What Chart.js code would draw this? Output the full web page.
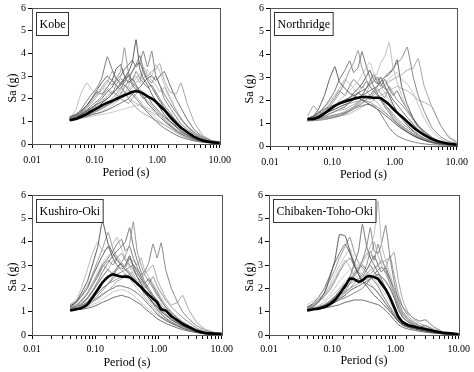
<!DOCTYPE html>
<html>
<head>
<meta charset="utf-8">
<script src="https://cdn.jsdelivr.net/npm/chart.js@4.4.1/dist/chart.umd.min.js"></script>
<style>
  body { margin: 0; background: #fff; }
  #wrap { position: relative; width: 474px; height: 372px; }
  #wrap canvas { position: absolute; }
</style>
</head>
<body>
<div id="wrap"></div>
<script>
// periods (s) shared by every spectrum
const periods = [0.04,0.05,0.06,0.075,0.09, 0.11,0.13,0.16,0.19,0.22, 0.26,0.30,0.35,0.40,0.46, 0.53,0.60,0.70,0.82,0.95, 1.1,1.3,1.6,2.0,2.4, 3.0,4.0,5.5,7.5,10];
const yTicks = [0,1,2,3,4,5,6];
const panelNames = ['Kobe', 'Northridge', 'Kushiro-Oki', 'Chibaken-Toho-Oki'];

// Kobe
const kobeMean = [1.05,1.1,1.2,1.32,1.45, 1.58,1.7,1.82,1.9,1.98, 2.08,2.15,2.22,2.3,2.33, 2.3,2.22,2.1,2.0,1.88, 1.7,1.5,1.2,0.92,0.72, 0.53,0.3,0.14,0.08,0.05];
const kobeRecords = [
  [1.1,1.15,1.25,1.4,1.5, 1.6,1.8,2.0,2.2,2.4, 2.6,2.9,3.2,3.6,4.6, 3.3,2.9,2.6,2.2,1.9, 1.6,1.3,1.0,0.75,0.55, 0.4,0.22,0.1,0.06,0.04],
  [1.15,1.2,1.4,1.6,1.9, 2.2,2.5,2.8,2.6,2.9, 3.2,4.25,3.1,2.7,2.5, 2.3,2.1,1.9,1.7,1.5, 1.3,1.1,0.85,0.6,0.45, 0.32,0.18,0.09,0.05,0.03],
  [1.2,1.3,1.5,1.9,2.2, 2.5,2.9,3.85,3.3,2.9, 2.7,2.6,2.4,2.2,2.0, 1.8,1.6,1.4,1.2,1.0, 0.85,0.7,0.55,0.4,0.3, 0.22,0.13,0.07,0.04,0.03],
  [1.1,1.5,2.2,2.7,2.4, 2.2,2.4,2.5,2.3,2.2, 2.4,2.6,2.5,2.3,2.1, 1.9,1.7,1.5,1.3,1.15, 1.0,0.85,0.7,0.5,0.38, 0.27,0.15,0.08,0.05,0.03],
  [1.05,1.1,1.15,1.25,1.35, 1.45,1.55,1.7,1.85,2.0, 2.2,2.5,2.8,3.2,3.5, 3.6,4.1,3.4,4.1,3.0, 2.6,2.0,1.6,1.2,0.9, 0.65,0.4,0.2,0.1,0.06],
  [1.1,1.12,1.2,1.3,1.4, 1.5,1.6,1.7,1.8,1.9, 2.0,2.1,2.3,2.5,2.7, 2.9,3.1,3.0,3.2,3.3, 3.55,2.8,2.3,2.2,2.7, 1.8,0.9,0.35,0.15,0.08],
  [1.15,1.2,1.3,1.45,1.6, 1.8,2.0,2.3,2.5,2.8, 3.0,3.3,3.5,3.7,3.4, 3.6,3.2,2.8,2.5,2.2, 1.9,1.6,1.3,1.0,0.75, 0.5,0.3,0.15,0.08,0.05],
  [1.05,1.08,1.12,1.18,1.22, 1.27,1.3,1.35,1.4,1.45, 1.5,1.55,1.6,1.65,1.7, 1.7,1.65,1.6,1.5,1.4, 1.3,1.15,0.95,0.75,0.6, 0.45,0.28,0.14,0.07,0.04],
  [1.2,1.25,1.35,1.5,1.6, 1.75,1.85,2.0,2.2,2.4, 2.7,2.9,3.0,3.2,3.5, 3.9,3.3,2.9,2.7,3.0, 2.6,2.2,1.8,1.4,1.1, 0.8,0.5,0.25,0.12,0.07],
  [1.1,1.2,1.35,1.6,1.8, 2.1,2.4,2.7,3.2,2.9, 2.6,2.3,2.1,1.9,1.8, 1.7,1.6,1.5,1.4,1.3, 1.2,1.05,0.85,0.65,0.5, 0.36,0.22,0.11,0.06,0.04],
  [1.05,1.1,1.15,1.2,1.3, 1.35,1.4,1.5,1.6,1.7, 1.8,1.9,2.0,2.2,2.4, 2.5,2.7,2.9,3.0,2.8, 3.0,3.2,2.6,2.0,1.6, 1.1,0.6,0.3,0.15,0.1],
  [1.1,1.15,1.25,1.35,1.45, 1.55,1.65,1.8,2.0,2.2, 2.5,2.3,2.0,1.8,1.6, 1.45,1.35,1.25,1.15,1.05, 0.95,0.85,0.7,0.55,0.42, 0.3,0.18,0.09,0.05,0.03],
  [1.1,1.2,1.3,1.5,1.7, 1.9,2.1,2.4,2.2,2.6, 2.9,2.7,3.1,2.8,3.2, 2.9,2.7,2.5,2.6,2.3, 2.0,1.7,1.4,1.0,0.75, 0.5,0.28,0.13,0.07,0.04],
  [1.15,1.25,1.4,1.7,2.0, 2.3,2.2,2.5,2.8,2.6, 2.4,2.8,3.0,2.6,2.4, 2.2,2.0,2.1,1.8,1.6, 1.4,1.2,1.0,0.8,0.6, 0.42,0.25,0.12,0.06,0.04],
  [1.05,1.1,1.18,1.3,1.4, 1.5,1.6,1.75,1.9,2.1, 2.3,2.2,2.6,2.9,3.0, 2.7,3.4,3.1,2.8,2.6, 2.3,2.5,2.0,1.5,1.15, 0.8,0.45,0.22,0.1,0.06],
  [1.1,1.15,1.3,1.45,1.55, 1.7,1.9,2.1,2.3,2.2, 2.0,1.9,1.8,2.0,2.2, 2.4,2.3,2.1,2.0,1.8, 1.6,1.5,1.3,1.05,0.8, 0.55,0.32,0.15,0.08,0.05],
  [1.2,1.3,1.45,1.7,2.0, 2.4,2.7,3.0,2.8,3.3, 3.5,3.0,2.7,2.9,2.6, 2.3,2.1,1.8,1.6,1.4, 1.2,1.0,0.8,0.6,0.45, 0.33,0.2,0.1,0.05,0.03],
  [1.05,1.08,1.12,1.2,1.28, 1.35,1.45,1.55,1.7,1.85, 2.0,2.2,2.4,2.6,2.9, 3.1,2.8,3.3,3.0,3.5, 3.2,2.6,2.1,1.5,1.1, 0.75,0.42,0.2,0.1,0.06]
];

// Northridge
const northridgeMean = [1.16,1.18,1.25,1.42,1.58, 1.74,1.84,1.93,2.0,2.05, 2.1,2.13,2.13,2.12,2.1, 2.1,2.08,1.95,1.8,1.62, 1.45,1.28,1.06,0.82,0.65, 0.48,0.3,0.17,0.1,0.06];
const northridgeRecords = [
  [1.2,1.3,1.6,2.2,2.9, 3.45,2.8,2.5,2.3,2.2, 2.1,2.0,1.9,1.8,1.7, 1.6,1.5,1.35,1.2,1.05, 0.9,0.75,0.6,0.45,0.35, 0.26,0.16,0.09,0.05,0.03],
  [1.15,1.2,1.3,1.5,1.7, 2.0,2.3,2.8,3.3,3.6, 4.15,3.4,2.9,2.6,2.4, 2.2,2.0,1.8,1.6,1.4, 1.2,1.0,0.8,0.6,0.45, 0.33,0.2,0.1,0.06,0.04],
  [1.2,1.25,1.4,1.7,2.0, 2.4,2.9,3.3,3.7,3.2, 3.4,4.1,3.5,3.0,2.6, 2.3,2.0,1.7,1.45,1.2, 1.0,0.8,0.62,0.45,0.34, 0.24,0.14,0.07,0.04,0.03],
  [1.1,1.12,1.15,1.2,1.25, 1.3,1.4,1.5,1.6,1.7, 1.9,2.1,2.3,2.6,2.9, 3.2,3.6,3.9,4.5,3.4, 2.8,2.2,1.6,1.1,0.8, 0.55,0.3,0.15,0.08,0.05],
  [1.1,1.12,1.15,1.2,1.25, 1.3,1.35,1.45,1.55,1.65, 1.75,1.85,2.0,2.2,2.4, 2.6,2.8,3.0,3.1,3.4, 3.6,3.8,4.3,3.0,2.2, 1.5,0.8,0.4,0.2,0.12],
  [1.15,1.2,1.25,1.3,1.4, 1.5,1.55,1.6,1.7,1.8, 1.9,2.0,2.1,2.2,2.3, 2.4,2.5,2.6,2.8,2.9, 3.0,3.1,3.3,3.4,3.8, 2.6,1.7,0.9,0.4,0.2],
  [1.2,1.25,1.3,1.4,1.5, 1.6,1.7,1.8,1.9,2.0, 2.1,2.2,2.3,2.4,2.5, 2.6,2.8,3.0,3.2,3.3, 3.75,2.6,1.8,1.2,0.85, 0.55,0.3,0.15,0.08,0.05],
  [1.15,1.2,1.3,1.45,1.6, 1.8,2.0,2.2,2.4,2.6, 2.8,3.1,3.4,3.65,3.2, 2.9,2.6,2.3,2.0,1.7, 1.45,1.2,0.95,0.7,0.52, 0.37,0.22,0.11,0.06,0.04],
  [1.1,1.1,1.12,1.15,1.2, 1.25,1.3,1.4,1.5,1.6, 1.7,1.75,1.8,1.8,1.75, 1.6,1.4,1.1,0.8,0.6, 0.45,0.35,0.25,0.18,0.13, 0.09,0.06,0.04,0.03,0.02],
  [1.1,1.12,1.15,1.18,1.2, 1.25,1.3,1.35,1.4,1.5, 1.6,1.7,1.8,1.9,2.0, 2.1,2.2,2.3,2.4,2.5, 2.6,2.5,2.4,2.2,2.0, 1.9,1.7,0.9,0.35,0.15],
  [1.2,1.3,1.45,1.6,1.7, 1.8,1.9,2.0,2.1,2.2, 2.3,2.4,2.5,2.7,2.8, 3.0,2.7,2.5,2.3,2.0, 1.8,1.55,1.25,0.95,0.7, 0.5,0.3,0.15,0.08,0.05],
  [1.3,1.75,1.5,1.4,1.5, 1.6,1.7,1.8,1.85,1.9, 1.95,2.0,1.95,1.9,1.8, 1.7,1.6,1.45,1.3,1.15, 1.0,0.85,0.7,0.52,0.4, 0.29,0.18,0.09,0.05,0.03],
  [1.15,1.2,1.35,1.55,1.8, 2.1,2.4,2.2,2.6,2.9, 2.7,2.5,2.8,2.6,2.4, 2.2,2.0,1.8,1.55,1.3, 1.1,0.9,0.7,0.52,0.4, 0.29,0.17,0.09,0.05,0.03],
  [1.1,1.15,1.2,1.3,1.4, 1.5,1.6,1.7,1.9,2.1, 2.3,2.2,2.5,2.8,3.1, 2.8,2.6,2.9,2.5,2.2, 2.4,2.0,1.6,1.2,0.9, 0.65,0.38,0.18,0.09,0.05],
  [1.2,1.3,1.45,1.7,1.9, 2.2,2.5,2.9,2.7,2.5, 2.3,2.6,2.4,2.2,2.0, 1.9,1.7,1.5,1.3,1.1, 0.95,0.8,0.62,0.46,0.35, 0.25,0.15,0.08,0.05,0.03],
  [1.1,1.12,1.18,1.25,1.3, 1.35,1.4,1.45,1.55,1.7, 1.85,2.0,2.2,2.0,2.3, 2.5,2.3,2.1,2.6,2.3, 2.0,1.8,1.5,1.15,0.85, 0.6,0.35,0.17,0.09,0.05],
  [1.15,1.2,1.3,1.45,1.6, 1.75,1.9,2.0,2.1,2.3, 2.5,2.7,3.0,3.3,2.9, 2.7,3.0,2.6,2.2,1.8, 1.5,1.2,0.9,0.65,0.5, 0.35,0.2,0.1,0.06,0.04],
  [1.1,1.15,1.2,1.25,1.3, 1.35,1.4,1.5,1.6,1.7, 1.8,1.9,2.0,2.1,2.2, 2.3,2.5,2.7,2.9,3.1, 3.2,2.9,2.7,2.3,1.8, 1.2,0.65,0.3,0.15,0.08]
];

// Kushiro-Oki
const kushiroMean = [1.05,1.1,1.15,1.3,1.6, 1.95,2.25,2.5,2.6,2.55, 2.5,2.5,2.47,2.35,2.2, 2.05,1.9,1.72,1.55,1.4, 1.1,1.05,0.8,0.62,0.48, 0.35,0.18,0.08,0.06,0.05];
const kushiroRecords = [
  [1.2,1.4,1.8,2.3,3.0, 3.8,4.9,3.9,3.5,3.2, 3.0,2.8,2.6,2.4,2.2, 2.0,1.8,1.6,1.4,1.2, 1.0,0.85,0.65,0.5,0.38, 0.27,0.15,0.08,0.05,0.03],
  [1.1,1.15,1.2,1.35,1.5, 1.7,1.9,2.2,2.5,2.8, 3.1,3.4,3.9,4.85,3.6, 3.0,2.6,2.3,2.0,1.7, 1.45,1.2,0.95,0.72,0.55, 0.4,0.22,0.1,0.06,0.04],
  [1.15,1.2,1.35,1.6,1.9, 2.3,2.7,3.1,3.4,3.6, 3.8,4.0,4.6,3.8,3.2, 2.7,2.3,2.0,1.7,1.45, 1.2,1.0,0.78,0.58,0.43, 0.31,0.17,0.08,0.05,0.03],
  [1.3,1.5,2.0,2.8,3.5, 4.0,3.6,3.7,3.9,4.2, 3.7,3.3,2.9,2.6,2.3, 2.0,1.7,1.5,1.3,1.1, 0.9,0.75,0.58,0.44,0.34, 0.25,0.14,0.07,0.04,0.03],
  [1.1,1.15,1.25,1.4,1.6, 1.8,2.0,2.2,2.4,2.6, 2.7,2.8,2.9,3.0,2.8, 2.6,2.7,3.1,3.9,3.3, 3.95,2.8,2.0,1.4,1.0, 0.7,0.4,0.2,0.1,0.06],
  [1.05,1.1,1.15,1.25,1.4, 1.55,1.7,1.9,2.1,2.3, 2.4,2.5,2.6,2.7,2.6, 2.5,2.6,2.8,3.0,2.4, 2.0,1.6,1.3,1.4,1.7, 1.1,0.55,0.25,0.12,0.07],
  [1.05,1.08,1.1,1.15,1.2, 1.3,1.4,1.5,1.6,1.65, 1.7,1.65,1.6,1.5,1.4, 1.3,1.15,1.0,0.85,0.7, 0.6,0.5,0.4,0.3,0.23, 0.17,0.1,0.05,0.03,0.02],
  [1.2,1.3,1.5,1.8,2.2, 2.7,3.1,3.4,3.6,3.4, 3.1,2.9,2.7,2.5,2.3, 2.1,1.9,1.7,1.5,1.3, 1.1,0.9,0.7,0.52,0.4, 0.29,0.16,0.08,0.05,0.03],
  [1.15,1.25,1.45,1.8,2.2, 2.6,3.0,3.3,3.6,3.9, 4.1,3.6,3.8,3.3,2.9, 2.5,2.2,1.9,1.6,1.35, 1.1,0.9,0.7,0.52,0.4, 0.28,0.15,0.08,0.05,0.03],
  [1.1,1.15,1.25,1.45,1.7, 2.0,2.3,2.5,2.7,2.8, 2.9,3.0,3.1,3.2,3.0, 3.3,2.8,2.5,2.2,1.9, 1.6,1.3,1.0,0.75,0.58, 0.42,0.24,0.12,0.06,0.04],
  [1.1,1.12,1.2,1.3,1.45, 1.6,1.75,1.9,2.0,2.1, 2.1,2.05,2.0,1.9,1.8, 1.65,1.5,1.3,1.1,0.9, 0.75,0.62,0.5,0.38,0.29, 0.21,0.12,0.06,0.04,0.02],
  [1.3,1.45,1.7,2.1,2.6, 3.2,3.7,4.4,3.7,3.3, 3.0,2.8,2.7,2.5,2.3, 2.0,1.8,1.6,1.4,1.2, 1.0,0.85,0.66,0.5,0.38, 0.28,0.16,0.08,0.05,0.03],
  [1.15,1.25,1.45,1.75,2.1, 2.5,2.9,3.2,3.0,3.3, 3.5,3.2,3.0,2.8,2.5, 2.3,2.1,1.9,1.7,1.5, 1.3,1.1,0.85,0.62,0.47, 0.34,0.19,0.09,0.05,0.03],
  [1.1,1.15,1.3,1.55,1.85, 2.2,2.5,2.8,2.6,2.9, 3.1,2.9,3.3,3.0,2.7, 2.4,2.2,2.4,2.1,1.8, 1.5,1.2,0.95,0.7,0.55, 0.4,0.22,0.1,0.06,0.04],
  [1.2,1.3,1.5,1.8,2.2, 2.6,3.0,2.8,3.2,3.0, 2.8,2.6,2.4,2.2,2.0, 1.8,1.6,1.4,1.2,1.0, 0.8,0.65,0.5,0.38,0.3, 0.22,0.13,0.07,0.04,0.03],
  [1.1,1.15,1.25,1.4,1.6, 1.8,2.0,2.2,2.3,2.4, 2.5,2.6,2.5,2.4,2.3, 2.2,2.0,2.2,2.5,2.1, 1.8,1.5,1.2,0.95,0.75, 0.55,0.3,0.14,0.07,0.04],
  [1.25,1.4,1.65,2.0,2.5, 3.0,3.4,3.8,3.3,3.0, 2.8,3.0,3.4,2.9,2.5, 2.2,1.9,1.6,1.35,1.1, 0.9,0.72,0.55,0.42,0.32, 0.23,0.13,0.07,0.04,0.02],
  [1.05,1.08,1.12,1.2,1.3, 1.4,1.55,1.7,1.85,1.9, 1.95,1.9,1.8,1.7,1.55, 1.4,1.25,1.1,0.95,0.85, 0.75,0.65,0.52,0.4,0.3, 0.22,0.13,0.06,0.04,0.02]
];

// Chibaken-Toho-Oki
const chibakenMean = [1.05,1.1,1.13,1.2,1.3, 1.5,1.75,2.1,2.42,2.4, 2.28,2.35,2.5,2.52,2.48, 2.4,2.2,1.95,1.6,1.2, 0.8,0.55,0.42,0.35,0.3, 0.25,0.17,0.1,0.07,0.03];
const chibakenRecords = [
  [1.1,1.2,1.4,1.8,2.4, 3.2,4.3,4.25,3.6,3.0, 2.6,2.3,2.1,1.9,1.7, 1.55,1.4,1.2,1.0,0.8, 0.6,0.45,0.35,0.28,0.22, 0.17,0.11,0.06,0.04,0.02],
  [1.15,1.3,1.5,1.8,2.3, 2.8,3.3,3.8,4.2,3.6, 3.1,2.9,2.7,2.5,2.3, 2.1,1.8,1.5,1.2,0.9, 0.65,0.48,0.37,0.3,0.25, 0.2,0.13,0.07,0.04,0.02],
  [1.05,1.1,1.15,1.25,1.4, 1.6,1.8,2.1,2.5,3.0, 3.6,4.75,3.8,3.3,3.0, 2.7,2.4,2.0,1.6,1.2, 0.85,0.6,0.45,0.35,0.28, 0.22,0.14,0.08,0.05,0.03],
  [1.1,1.15,1.25,1.4,1.6, 1.8,2.0,2.3,2.5,2.7, 2.9,3.1,3.4,3.8,4.3, 5.75,3.9,3.2,2.6,2.0, 1.4,0.95,0.65,0.45,0.35, 0.27,0.17,0.09,0.05,0.03],
  [1.05,1.1,1.15,1.25,1.35, 1.5,1.7,1.9,2.2,2.5, 2.8,3.2,3.8,4.6,3.6, 3.5,3.9,4.7,3.3,2.3, 1.5,1.0,0.7,0.5,0.38, 0.28,0.17,0.09,0.05,0.03],
  [1.1,1.12,1.2,1.3,1.45, 1.6,1.8,2.0,2.2,2.3, 2.4,2.5,2.6,2.8,2.9, 3.0,3.1,3.2,3.3,3.55, 2.4,1.5,0.95,0.65,0.5, 0.4,0.25,0.13,0.07,0.04],
  [1.05,1.08,1.1,1.15,1.2, 1.25,1.3,1.4,1.45,1.5, 1.5,1.5,1.45,1.4,1.35, 1.3,1.2,1.05,0.85,0.65, 0.45,0.33,0.25,0.2,0.16, 0.12,0.08,0.05,0.03,0.02],
  [1.3,1.45,1.6,1.5,1.7, 2.0,2.3,2.6,2.8,2.9, 3.0,2.8,2.6,2.5,2.4, 2.2,2.0,1.7,1.4,1.1, 0.8,0.6,0.45,0.35,0.28, 0.22,0.14,0.07,0.04,0.02],
  [1.1,1.12,1.15,1.2,1.3, 1.4,1.5,1.6,1.7,1.8, 1.9,2.0,2.2,2.4,2.6, 2.8,2.9,2.7,2.4,2.0, 1.6,1.2,0.9,0.7,0.6, 0.65,0.35,0.15,0.08,0.05],
  [1.1,1.15,1.2,1.3,1.45, 1.6,1.8,2.0,2.3,2.6, 2.9,3.2,3.5,3.3,4.0, 3.4,3.0,2.6,2.2,1.8, 1.3,0.9,0.62,0.45,0.35, 0.27,0.16,0.08,0.05,0.03],
  [1.2,1.35,1.6,2.0,2.5, 3.1,3.5,3.9,3.5,3.1, 2.6,2.3,2.2,2.1,2.0, 1.8,1.6,1.35,1.1,0.85, 0.6,0.42,0.32,0.26,0.21, 0.16,0.1,0.05,0.03,0.02],
  [1.1,1.15,1.2,1.3,1.4, 1.55,1.7,1.85,2.0,2.1, 2.2,2.3,2.4,2.6,2.8, 3.0,3.2,2.9,3.4,2.6, 1.8,1.2,0.8,0.55,0.42, 0.32,0.2,0.1,0.06,0.04],
  [1.15,1.25,1.4,1.65,1.9, 2.3,2.7,3.1,3.3,3.0, 2.7,2.5,2.8,3.0,2.7, 2.5,2.3,2.0,1.6,1.2, 0.85,0.6,0.45,0.35,0.28, 0.22,0.14,0.07,0.04,0.02],
  [1.1,1.15,1.2,1.3,1.45, 1.65,1.9,2.2,2.4,2.6, 2.8,3.0,2.8,3.1,3.4, 3.0,2.7,2.9,2.4,1.9, 1.3,0.9,0.62,0.45,0.35, 0.27,0.17,0.08,0.05,0.03],
  [1.2,1.3,1.45,1.7,2.0, 2.4,2.8,3.2,2.9,2.6, 2.4,2.2,2.3,2.5,2.3, 2.1,1.8,1.5,1.2,0.95, 0.7,0.5,0.38,0.3,0.24, 0.19,0.12,0.06,0.04,0.02],
  [1.1,1.12,1.18,1.25,1.35, 1.45,1.6,1.8,2.0,2.2, 2.4,2.6,3.0,3.6,3.2, 3.9,3.3,2.8,2.2,1.7, 1.2,0.8,0.55,0.4,0.32, 0.25,0.16,0.08,0.05,0.03],
  [1.05,1.1,1.15,1.2,1.3, 1.4,1.55,1.7,1.9,2.0, 2.1,2.2,2.3,2.4,2.5, 2.6,2.5,2.3,2.0,1.6, 1.1,0.75,0.55,0.42,0.36, 0.4,0.22,0.11,0.06,0.04],
  [1.15,1.3,1.5,1.75,2.1, 2.6,3.0,3.4,3.7,3.2, 2.8,2.6,2.4,2.2,2.0, 1.8,1.6,1.3,1.05,0.8, 0.58,0.42,0.32,0.26,0.21, 0.16,0.1,0.05,0.03,0.02]
];

const SERIF = "'Liberation Serif', 'Times New Roman', serif";
const grays = ['#4a4a4a','#8a8a8a','#666666','#b5b5b5','#777777','#9c9c9c','#555555','#c2c2c2','#6e6e6e',
               '#a8a8a8','#5c5c5c','#909090','#7a7a7a','#5a5a5a','#adadad','#848484','#444444','#bcbcbc'];

// where each panel sits on the page and where its plot area is inside it
const panels = [
  { name: panelNames[0], mean: kobeMean,       records: kobeRecords,       pos: [0, 0],     area: { left: 32, top: 7, right: 224, bottom: 144 }, tickPad: 6, titlePad: 6 },
  { name: panelNames[1], mean: northridgeMean, records: northridgeRecords, pos: [237, 0],   area: { left: 33, top: 8, right: 224, bottom: 146 }, tickPad: 6, titlePad: 4 },
  { name: panelNames[2], mean: kushiroMean,    records: kushiroRecords,    pos: [0, 186],   area: { left: 32, top: 9, right: 223, bottom: 149 }, tickPad: 4, titlePad: 2 },
  { name: panelNames[3], mean: chibakenMean,   records: chibakenRecords,   pos: [237, 186], area: { left: 32, top: 9, right: 224, bottom: 149 }, tickPad: 4, titlePad: 4 }
];

// frame, name box and rotated y title
const panelDecor = {
  id: 'panelDecor',
  afterDraw(chart, args, opts) {
    const ctx = chart.ctx;
    const a = chart.chartArea;
    ctx.save();
    ctx.strokeStyle = '#555';
    ctx.lineWidth = 1;
    ctx.strokeRect(Math.round(a.left) + 0.5, Math.round(a.top) + 0.5, Math.round(a.right - a.left), Math.round(a.bottom - a.top));

    ctx.font = '12px ' + SERIF;
    const w = ctx.measureText(opts.name).width;
    const bx = Math.round(a.left) + 4.5, by = Math.round(a.top) + 4.5;
    ctx.fillStyle = '#fff';
    ctx.fillRect(bx, by, w + 6, 23);
    ctx.strokeStyle = '#333';
    ctx.strokeRect(bx, by, w + 6, 23);
    ctx.fillStyle = '#000';
    ctx.textBaseline = 'middle';
    ctx.fillText(opts.name, bx + 3, by + 12);

    ctx.translate(13, (a.top + a.bottom) / 2 + 12);
    ctx.rotate(-Math.PI / 2);
    ctx.textAlign = 'center';
    ctx.font = '12px ' + SERIF;
    ctx.fillText('Sa (g)', 0, 0);
    ctx.restore();
  }
};

function makePanel(p) {
  const canvas = document.createElement('canvas');
  canvas.width = 237;
  canvas.height = 186;
  canvas.style.left = p.pos[0] + 'px';
  canvas.style.top = p.pos[1] + 'px';
  document.getElementById('wrap').appendChild(canvas);

  const datasets = [{
    data: periods.map((t, i) => ({ x: t, y: p.mean[i] })),
    borderColor: '#000',
    borderWidth: 2.6,
    order: 0
  }];
  p.records.forEach((rec, k) => {
    datasets.push({
      data: periods.map((t, i) => ({ x: t, y: rec[i] })),
      borderColor: grays[k % grays.length],
      borderWidth: 0.9,
      order: 1
    });
  });

  new Chart(canvas, {
    type: 'line',
    data: { datasets },
    options: {
      responsive: false,
      animation: false,
      events: [],
      elements: { point: { radius: 0 }, line: { tension: 0.1 } },
      layout: { padding: { top: p.area.top, right: 237 - p.area.right, bottom: 0, left: 0 } },
      plugins: { legend: { display: false }, tooltip: { enabled: false }, panelDecor: { name: p.name } },
      scales: {
        x: {
          type: 'logarithmic',
          min: 0.01,
          max: 10,
          afterFit(s) { s.height = 186 - p.area.bottom; },
          ticks: {
            autoSkip: false,
            maxRotation: 0,
            minRotation: 0,
            padding: p.tickPad,
            color: '#000',
            font: { family: SERIF, size: 10 },
            callback(v) {
              const l = Math.log10(v);
              return Math.abs(l - Math.round(l)) < 1e-6 ? Number(v).toFixed(2) : '';
            }
          },
          grid: { drawOnChartArea: false, drawTicks: true, tickLength: 4, color: '#000' },
          border: { color: '#000' },
          title: { display: true, text: 'Period (s)', color: '#000', font: { family: SERIF, size: 12 }, padding: { top: 0, bottom: p.titlePad } }
        },
        y: {
          min: 0,
          max: 6,
          afterFit(s) { s.width = p.area.left; },
          afterBuildTicks(s) { s.ticks = yTicks.map(v => ({ value: v })); },
          ticks: { padding: 2, color: '#000', font: { family: SERIF, size: 10 } },
          grid: { drawOnChartArea: false, drawTicks: true, tickLength: 4, color: '#000' },
          border: { color: '#000' }
        }
      }
    },
    plugins: [panelDecor]
  });
}

panels.forEach(makePanel);
</script>
</body>
</html>
